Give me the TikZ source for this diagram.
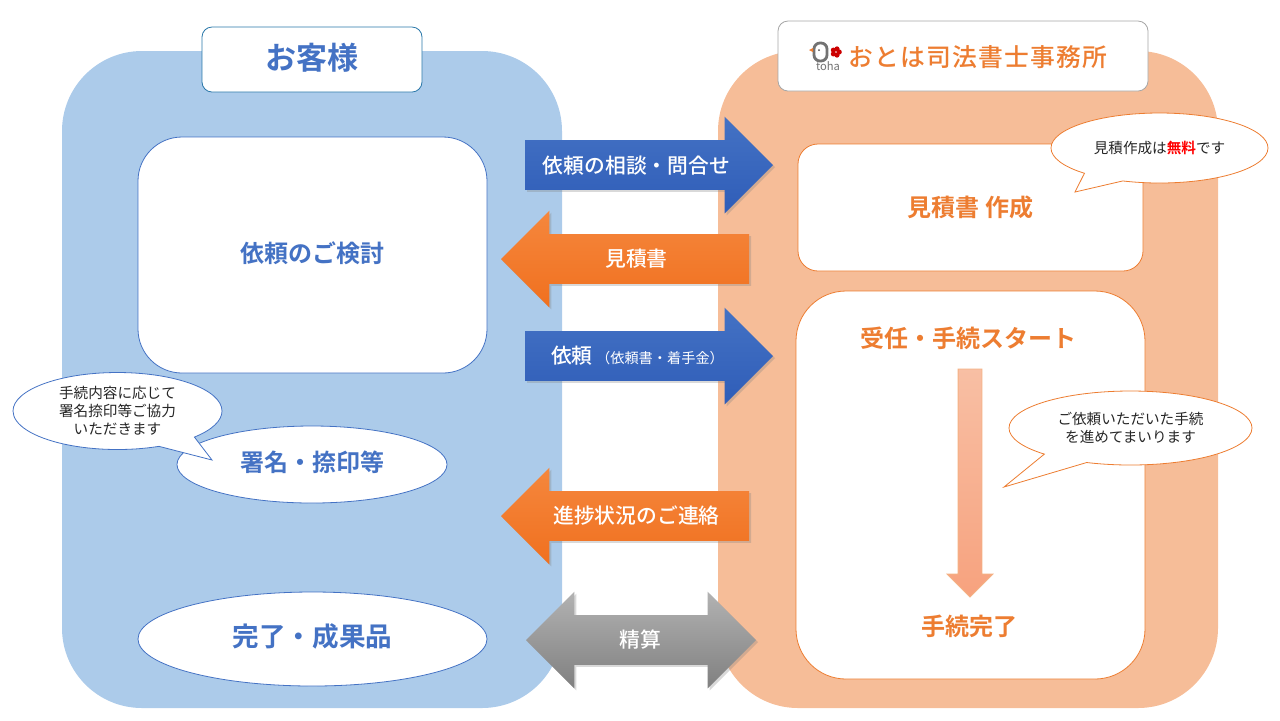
\documentclass[tikz,border=0pt]{standalone}
\usepackage{fontspec}
\setmainfont[BoldFont={Noto Sans CJK JP Medium}]{Noto Sans CJK JP}
\newfontfamily\heavyfont{Noto Sans CJK JP Bold}
\usetikzlibrary{shapes.arrows,shapes.callouts,shapes.geometric,shadows}
\definecolor{panelblue}{HTML}{ACCBEA}
\definecolor{panelorange}{HTML}{F6BD98}
\definecolor{textblue}{HTML}{4472C4}
\definecolor{textorange}{HTML}{ED7D31}
\definecolor{flowblueend}{HTML}{2F5DB8}
\definecolor{floworangetop}{HTML}{F5873D}
\definecolor{floworangeend}{HTML}{F0701F}
\definecolor{progresstop}{HTML}{F8BFA4}
\definecolor{progressend}{HTML}{F7A27E}
\begin{document}
\begin{tikzpicture}[x=0.5pt,y=-0.5pt,every node/.style={inner sep=0pt,outer sep=0pt,align=center},
  panel/.style={rectangle,rounded corners=40pt,minimum width=250pt,minimum height=328.5pt},
  boxblue/.style={draw=textblue,fill=white,text=textblue,text height=10.6pt,text depth=3.4pt,font=\heavyfont\fontsize{12}{14}\selectfont},
  boxorange/.style={draw=textorange,fill=white,text=textorange,font=\heavyfont\fontsize{12}{14}\selectfont},
  notes/.style={ellipse callout,fill=white,callout pointer arc=24,text=black!85,font=\fontsize{7.3}{9}\selectfont},
  flow/.style={single arrow,inner sep=12.25pt,single arrow head extend=11.75pt,minimum height=124pt,drop shadow={shadow xshift=1pt,shadow yshift=-1pt,opacity=.3}},
  flowblue/.style={flow,top color=textblue,bottom color=flowblueend},
  floworange/.style={flow,shape border rotate=180,top color=floworangetop,bottom color=floworangeend},
  flowtext/.style={text=white,font=\bfseries\fontsize{10.4}{12}\selectfont}]
\useasboundingbox (0,0) rectangle (1280,720);
\node[panel,fill=panelblue] (client) at (312,379.5) {};
\node[panel,fill=panelorange] (office) at (968,379.5) {};
\node[draw=textblue!60!teal,fill=white,rounded corners=5pt,minimum width=110pt,minimum height=32.5pt,text=textblue,text height=13.6pt,text depth=3.9pt,font=\heavyfont\fontsize{15.5}{18}\selectfont] (clienttitle) at (312,59.5) {お客様};
\node[draw=black!35,fill=white,rounded corners=5pt,minimum width=185pt,minimum height=35pt] (officetitle) at (963,56) {};
\node[text=textorange,font=\bfseries\fontsize{12.4}{15}\selectfont] (officename) at (977.5,57) {お\hspace{.6pt}と\hspace{.6pt}は\hspace{.6pt}司\hspace{.6pt}法\hspace{.6pt}書\hspace{.6pt}士\hspace{.6pt}事\hspace{.6pt}務\hspace{.6pt}所};
% logo
\draw[black!55,line width=1.4pt,fill=white,rounded corners=3pt] (814,43) rectangle (827,61);
\fill[textorange] (813,48) -- (809,50) -- (813,52) -- cycle;
\fill[black!70] (819,50) circle (1);
\foreach \a in {0,72,...,288}
  \fill[red!80!black] (836,52) ++(\a:3.2) circle (2.6);
\node[text=black!55,font=\fontsize{5.6}{7}\selectfont] (logotext) at (828,66) {toha};
% left side
\node[boxblue,rounded corners=22pt,minimum width=174.5pt,minimum height=118pt] (review) at (312.5,255) {依頼のご検討};
\node[boxblue,ellipse,minimum width=135pt,minimum height=38.5pt] (sign) at (312,464.5) {署名・捺印等};
\node[boxblue,ellipse,minimum width=174.5pt,minimum height=47pt,font=\heavyfont\fontsize{13.3}{15}\selectfont] (finish) at (312.5,639) {完了・成果品};
\node[notes,draw=textblue,minimum width=104.5pt,minimum height=38.5pt,callout absolute pointer={(212,460)}] (signnote) at (117.5,411) {手続内容に応じて\\署名捺印等ご協力\\いただきます};
% right side
\node[boxorange,rounded corners=10pt,minimum width=172.5pt,minimum height=63.5pt] (quote) at (970.5,207.5) {見積書 作成};
\node[boxorange,rounded corners=25pt,minimum width=174.5pt,minimum height=194pt] (work) at (970.5,485) {};
\node[text=textorange,font=\heavyfont\fontsize{12}{14}\selectfont] (start) at (968.5,338) {受任・手続スタート};
\node[text=textorange,font=\heavyfont\fontsize{12}{14}\selectfont] (done) at (969.5,626.5) {手続完了};
\node[single arrow,shape border rotate=270,anchor=tip,draw=textorange!60,inner sep=5.75pt,single arrow head extend=5.5pt,minimum height=114pt,top color=progresstop,bottom color=progressend] (progress) at (970,597) {};
\node[notes,draw=textorange,minimum width=108.5pt,minimum height=35pt,callout absolute pointer={(1075,192)}] (quotenote) at (1159.5,148) {見積作成は{\color{red}\heavyfont 無料}です};
\node[notes,draw=textorange,minimum width=121.5pt,minimum height=37pt,callout absolute pointer={(1004,487)}] (worknote) at (1130.5,428) {ご依頼いただいた手続\\を進めてまいります};
% arrows
\node[flowblue,anchor=tip] (ask) at (773,165) {};
\node[flowtext] (asktext) at (636.5,166) {依頼の相談・問合せ};
\node[floworange,anchor=tip] (estimate) at (501,259) {};
\node[flowtext] (estimatetext) at (636.5,258.5) {見積書};
\node[flowblue,anchor=tip] (order) at (773,356) {};
\node[flowtext] (ordertext) at (637.5,356) {依頼\,{\mdseries\fontsize{7.1}{8}\selectfont （依頼書・着手金）}};
\node[floworange,anchor=tip] (report) at (501,516) {};
\node[flowtext] (reporttext) at (636.5,515.5) {進捗状況のご連絡};
\node[double arrow,inner sep=12.25pt,double arrow head extend=11.75pt,minimum height=115pt,top color=black!30,bottom color=black!50,drop shadow={shadow xshift=1pt,shadow yshift=-1pt,opacity=.3}] (settle) at (641,640) {};
\node[flowtext] (settletext) at (640.5,640) {精算};
\end{tikzpicture}
\end{document}
